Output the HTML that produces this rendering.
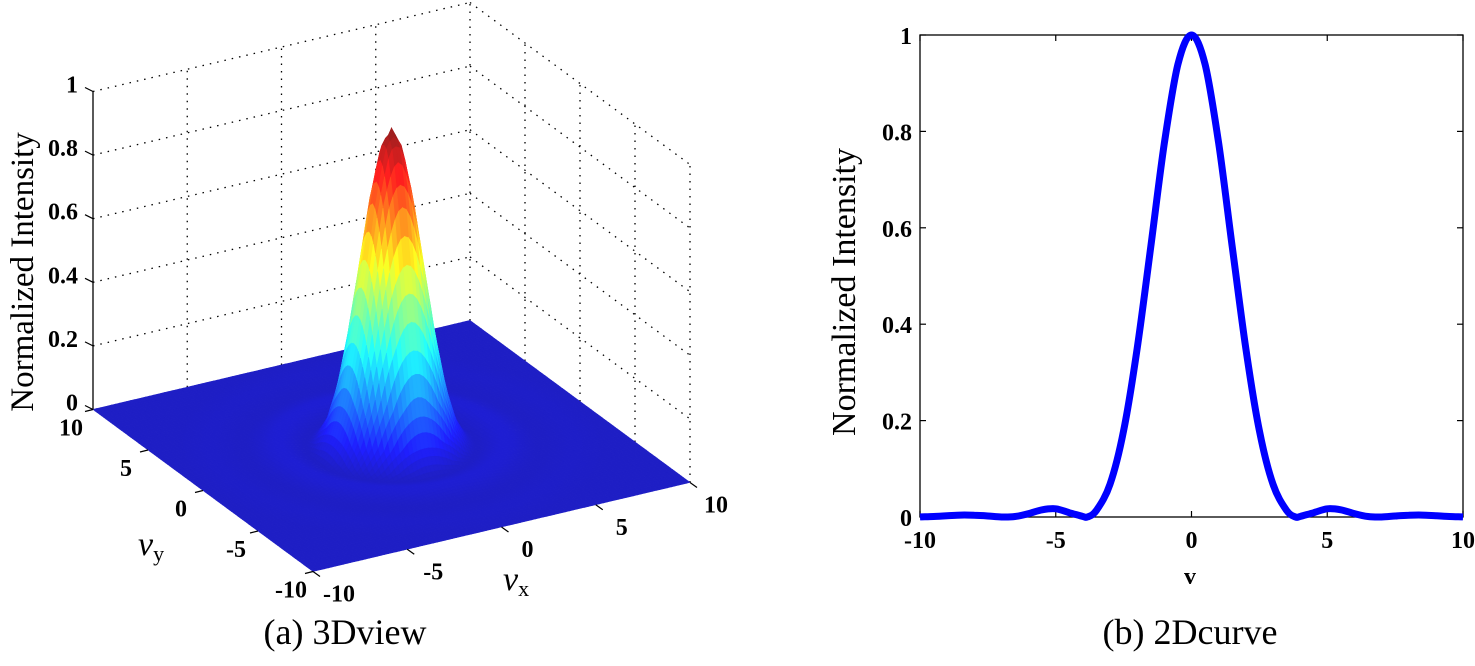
<!DOCTYPE html>
<html><head><meta charset="utf-8"><style>
html,body{margin:0;padding:0;background:#fff;}
svg text{font-family:"Liberation Serif",serif;}
</style></head><body>
<svg id="fig" width="1475" height="661" viewBox="0 0 1475 661" xmlns="http://www.w3.org/2000/svg">
<g id="p3d"></g>
<g id="p2d"></g>
<text x="345" y="644" font-size="36" text-anchor="middle">(a)  3Dview</text>
<text x="1190" y="644" font-size="36" text-anchor="middle">(b)  2Dcurve</text>
</svg>
<script>
// radial intensity profile
const vValues = [0,0.5,1,1.5,2,2.5,3,3.5,3.83,4,4.5,5,5.5,6,6.5,7,7.5,8,8.5,9,9.5,10];
const intensity = [1,0.939,0.775,0.561,0.350,0.179,0.068,0.014,0,0.001,0.009,0.017,0.015,0.007,0.001,0,0.002,0.0036,0.004,0.0026,0.001,0.0002];
const xTicks = [-10,-5,0,5,10];
const yTicks = [0,0.2,0.4,0.6,0.8,1];
const yTickLabels = ['0','0.2','0.4','0.6','0.8','1'];
const vxTicks = [-10,-5,0,5,10];
const vyTicks = [-10,-5,0,5,10];

const NS='http://www.w3.org/2000/svg';
const TK={'font-weight':'bold','font-size':24};
function mk(tag,attrs,parent){const e=document.createElementNS(NS,tag);for(const k in attrs)e.setAttribute(k,attrs[k]);parent.appendChild(e);return e;}
function prof(r){r=Math.abs(r);if(r>=vValues[vValues.length-1])return intensity[intensity.length-1];
 for(let i=0;i<vValues.length-1;i++){if(r<=vValues[i+1]){const t=(r-vValues[i])/(vValues[i+1]-vValues[i]);return intensity[i]+t*(intensity[i+1]-intensity[i]);}}return 0;}

// ---------- 3D panel ----------
const g3=document.getElementById('p3d');
function P(vx,vy,z){return [391.5+18.85*vx-11*vy, 446-4.45*vx-8.1*vy-318*z];}
function pt(p){return p[0].toFixed(1)+','+p[1].toFixed(1);}
const dot={stroke:'#000','stroke-width':1.3,'stroke-dasharray':'1.5,6',fill:'none'};
function dline(a,b,name){const l=mk('line',Object.assign({x1:a[0],y1:a[1],x2:b[0],y2:b[1]},dot),g3);}
[-5,0,5,10].forEach(v=>dline(P(v,10,0),P(v,10,1),'grid-wall-back-v'));
[5,0,-5,-10].forEach(v=>dline(P(10,v,0),P(10,v,1),'grid-wall-right-v'));
yTicks.forEach(z=>{ if(z>0){dline(P(-10,10,z),P(10,10,z),'grid-wall-back-h');dline(P(10,10,z),P(10,-10,z),'grid-wall-right-h');}});
function jet(t){t=Math.max(0,Math.min(1,t))*0.94+0.06;
 const r=Math.max(0,Math.min(1,1.5-Math.abs(4*t-3))),g=Math.max(0,Math.min(1,1.5-Math.abs(4*t-2))),b=Math.max(0,Math.min(1,1.5-Math.abs(4*t-1)));
 const m=0.12;return 'rgb('+Math.round((r*(1-m)+m)*255)+','+Math.round((g*(1-m)+m)*255)+','+Math.round((b*(1-m)+m)*255)+')';}
const surf=mk('g',{},g3);
const N=100,quads=[];
for(let i=0;i<N;i++)for(let j=0;j<N;j++){
 const x0=-10+20*i/N,x1=-10+20*(i+1)/N,y0=-10+20*j/N,y1=-10+20*(j+1)/N;
 const z=[[x0,y0],[x1,y0],[x1,y1],[x0,y1]].map(c=>prof(Math.hypot(c[0],c[1])));
 const pts=[P(x0,y0,z[0]),P(x1,y0,z[1]),P(x1,y1,z[2]),P(x0,y1,z[3])];
 const zm=(z[0]+z[1]+z[2]+z[3])/4;
 quads.push({d:-(4.45*(x0+x1)/2+8.1*(y0+y1)/2),pts,zm});
}
quads.sort((a,b)=>a.d-b.d);
quads.forEach(q=>{const c=jet(q.zm);mk('polygon',{points:q.pts.map(pt).join(' '),fill:c,stroke:c,'stroke-width':0.6},surf);});
const za=mk('line',{x1:93,y1:P(-10,10,0)[1],x2:93,y2:P(-10,10,1)[1],stroke:'#000','stroke-width':1.3},g3);

yTicks.forEach((z,k)=>{const p=P(-10,10,z);
 mk('line',{x1:p[0]-8,y1:p[1]-4,x2:p[0],y2:p[1],stroke:'#000','stroke-width':1.2},g3);
 const t=mk('text',Object.assign({x:p[0]-15,y:p[1]+1,'text-anchor':'end'},TK),g3);t.textContent=yTickLabels[k];
 });
vyTicks.forEach(v=>{const p=P(-10,v,0);
 mk('line',{x1:p[0],y1:p[1],x2:p[0]-8,y2:p[1]+2,stroke:'#000','stroke-width':1.2},g3);
 const t=mk('text',Object.assign({x:p[0]-22,y:p[1]+26,'text-anchor':'middle'},TK),g3);t.textContent=String(v);
 });
vxTicks.forEach(v=>{const p=P(v,-10,0);
 mk('line',{x1:p[0],y1:p[1],x2:p[0]+7,y2:p[1]+5,stroke:'#000','stroke-width':1.2},g3);
 const t=mk('text',Object.assign({x:p[0]+26,y:p[1]+30,'text-anchor':'middle'},TK),g3);t.textContent=String(v);
 });
{const t=mk('text',{x:0,y:0,'font-size':33,'text-anchor':'middle',transform:'translate(33,272) rotate(-90)'},g3);t.textContent='Normalized Intensity';
 }
{const t=mk('text',{x:138,y:555,'font-size':34},g3);t.innerHTML='<tspan font-style="italic">v</tspan><tspan font-size="22" dy="6">y</tspan>';
 }
{const t=mk('text',{x:503,y:590,'font-size':34},g3);t.innerHTML='<tspan font-style="italic">v</tspan><tspan font-size="22" dy="6">x</tspan>';
 }

// ---------- 2D panel ----------
const g2=document.getElementById('p2d');
const L=920,R=1463,T=35,B=517;
const sx=v=>L+(v+10)/20*(R-L), sy=y=>B-y*(B-T);
const box=mk('rect',{x:L,y:T,width:R-L,height:B-T,fill:'none',stroke:'#000','stroke-width':1.3},g2);

xTicks.forEach(v=>{const x=sx(v);
 mk('line',{x1:x,y1:B,x2:x,y2:B-6,stroke:'#000','stroke-width':1.2},g2);
 mk('line',{x1:x,y1:T,x2:x,y2:T+6,stroke:'#000','stroke-width':1.2},g2);
 const t=mk('text',Object.assign({x:x,y:B+31,'text-anchor':'middle'},TK),g2);t.textContent=String(v);
 });
yTicks.forEach((v,k)=>{const y=sy(v);
 mk('line',{x1:L,y1:y,x2:L+6,y2:y,stroke:'#000','stroke-width':1.2},g2);
 mk('line',{x1:R,y1:y,x2:R-6,y2:y,stroke:'#000','stroke-width':1.2},g2);
 const t=mk('text',Object.assign({x:L-8,y:y+9,'text-anchor':'end'},TK),g2);t.textContent=yTickLabels[k];
 });
const xs=[],ys=[];
for(let i=vValues.length-1;i>0;i--){xs.push(-vValues[i]);ys.push(intensity[i]);}
for(let i=0;i<vValues.length;i++){xs.push(vValues[i]);ys.push(intensity[i]);}
const pp=xs.map((x,i)=>[sx(x),sy(ys[i])]);
let d='M'+pp[0][0]+','+pp[0][1];
for(let i=0;i<pp.length-1;i++){const p0=pp[Math.max(0,i-1)],p1=pp[i],p2=pp[i+1],p3=pp[Math.min(pp.length-1,i+2)];
 const c1=[p1[0]+(p2[0]-p0[0])/6,p1[1]+(p2[1]-p0[1])/6],c2=[p2[0]-(p3[0]-p1[0])/6,p2[1]-(p3[1]-p1[1])/6];
 d+=' C'+c1[0].toFixed(1)+','+c1[1].toFixed(1)+' '+c2[0].toFixed(1)+','+c2[1].toFixed(1)+' '+p2[0].toFixed(1)+','+p2[1].toFixed(1);}
const cl=mk('path',{d:d,fill:'none',stroke:'#0000ff','stroke-width':7,'stroke-linejoin':'round'},g2);

{const t=mk('text',Object.assign({x:1190,y:584,'text-anchor':'middle'},TK),g2);t.textContent='v';
 }
{const t=mk('text',{x:0,y:0,'font-size':34,'text-anchor':'middle',transform:'translate(855,292) rotate(-90)'},g2);t.textContent='Normalized Intensity';
 }
</script>
</body></html>
